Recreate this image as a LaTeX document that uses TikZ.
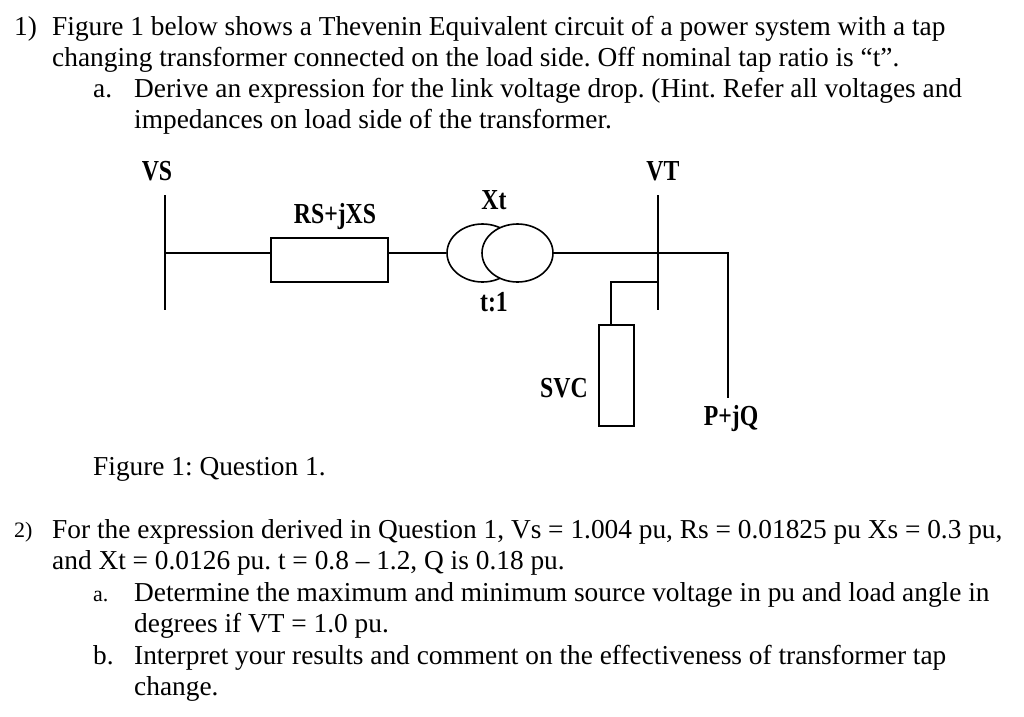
\documentclass[tikz,border=0pt]{standalone}
\usepackage{fontspec}
\setmainfont{Liberation Serif}
\newfontfamily\labelfont[FakeStretch=0.82]{Liberation Serif}
\frenchspacing
\usetikzlibrary{shapes.geometric}
\tikzstyle{para} = [anchor=base west, inner sep=0pt, font=\fontsize{27.35}{31}\selectfont]
\tikzstyle{small} = [anchor=base west, inner sep=0pt, font=\fontsize{22}{26}\selectfont]
\tikzstyle{label} = [inner sep=0pt, font=\fontsize{29}{33}\labelfont\bfseries]
\tikzstyle{wire} = [draw, line width=1.6pt]
\tikzstyle{block} = [rectangle, draw, line width=1.6pt, fill=white, inner sep=0pt]
\tikzstyle{winding} = [ellipse, draw, line width=1.6pt, fill=white, inner sep=0pt,
    minimum width=71pt, minimum height=58pt]

\begin{document}
\begin{tikzpicture}[x=1pt, y=-1pt]
  \useasboundingbox (0,0) rectangle (1024,716);
  % question 1
  \node [para] (num1) at (14,35) {1)};
  \node [para] (q1a) at (52,35) {Figure 1 below shows a Thevenin Equivalent circuit of a power system with a tap};
  \node [para] (q1b) at (52,66) {changing transformer connected on the load side. Off nominal tap ratio is “t”.};
  \node [para] (let1a) at (93,97) {a.};
  \node [para] (q1c) at (134,97) {Derive an expression for the link voltage drop. (Hint. Refer all voltages and};
  \node [para] (q1d) at (134,128) {impedances on load side of the transformer.};
  % circuit
  \coordinate (vstop) at (165,195);
  \coordinate (vsbot) at (165,310);
  \coordinate (vsmid) at (165,253);
  \coordinate (vttop) at (658,195);
  \coordinate (vtbot) at (658,310);
  \coordinate (vtmid) at (658,253);
  \coordinate (vtsvc) at (658,282);
  \coordinate (svcbend) at (611,282);
  \coordinate (svcin) at (611,325);
  \coordinate (loadbend) at (728,253);
  \coordinate (loadend) at (728,398);
  \node [block, minimum width=117pt, minimum height=44pt] (rs) at (329.5,260) {};
  \node [winding] (prim) at (482.5,253) {};
  \node [winding] (sec) at (517.5,253) {};
  \node [block, minimum width=35pt, minimum height=101pt] (svc) at (616.5,375.5) {};
  \path [wire] (vstop) -- (vsbot);
  \path [wire] (vttop) -- (vtbot);
  \path [wire] (vsmid) -- (rs.west |- vsmid);
  \path [wire] (rs.east |- vsmid) -- (prim.west);
  \path [wire] (sec.east) -- (vtmid) -- (loadbend) -- (loadend);
  \path [wire] (vtsvc) -- (svcbend) -- (svcin);
  \node [label] (vs) at (157,171) {VS};
  \node [label] (rsl) at (335,217) {RS+jXS};
  \node [label] (xt) at (494,200) {Xt};
  \node [label] (tr) at (494,302) {t:1};
  \node [label] (vt) at (663,171) {VT};
  \node [label] (svcl) at (564,388) {SVC};
  \node [label] (pq) at (731,419) {P+jQ};
  \node [para] (cap) at (93,475) {Figure 1: Question 1.};
  % question 2
  \node [small] (num2) at (14,537) {2)};
  \node [para] (q2a) at (52,538) {For the expression derived in Question 1, Vs = 1.004 pu, Rs = 0.01825 pu Xs = 0.3 pu,};
  \node [para] (q2b) at (52,569) {and Xt = 0.0126 pu. t = 0.8 – 1.2, Q is 0.18 pu.};
  \node [small] (let2a) at (93,601) {a.};
  \node [para] (q2c) at (134,601) {Determine the maximum and minimum source voltage in pu and load angle in};
  \node [para] (q2d) at (134,632) {degrees if VT = 1.0 pu.};
  \node [para] (let2b) at (93,664) {b.};
  \node [para] (q2e) at (134,664) {Interpret your results and comment on the effectiveness of transformer tap};
  \node [para] (q2f) at (134,695) {change.};
\end{tikzpicture}
\end{document}
